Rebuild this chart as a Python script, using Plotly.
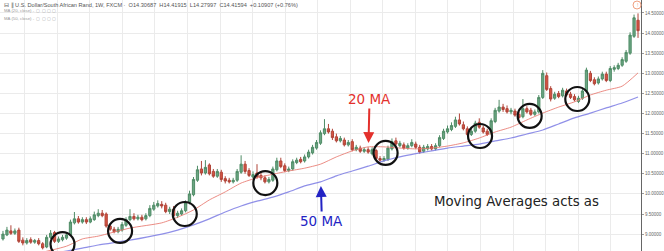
import plotly.graph_objects as go

# ---- weekly USD/ZAR candles ----
opens = [8.88, 8.98, 9.08, 9.02, 9.10, 8.85, 8.78, 8.86, 8.80, 8.84,
         8.76, 8.68, 8.92, 9.04, 8.82, 8.86, 8.90, 8.98, 9.28, 9.38,
         9.30, 9.36, 9.30, 9.36, 9.46, 9.52, 9.50, 9.20, 9.12, 9.06,
         9.10, 9.22, 9.36, 9.44, 9.38, 9.42, 9.38, 9.46, 9.62, 9.70,
         9.74, 9.72, 9.56, 9.62, 9.46, 9.50, 9.58, 9.78, 9.98, 10.34,
         10.62, 10.52, 10.72, 10.56, 10.44, 10.54, 10.38, 10.34, 10.30, 10.34,
         10.54, 10.74, 10.58, 10.42, 10.52, 10.46, 10.40, 10.30, 10.34, 10.60,
         10.82, 10.70, 10.58, 10.62, 10.78, 10.86, 10.82, 10.92, 11.02, 11.14,
         11.26, 11.50, 11.62, 11.56, 11.42, 11.32, 11.34, 11.22, 11.30, 11.10,
         11.14, 11.06, 11.10, 11.00, 11.08, 10.88, 10.84, 10.86, 11.12, 11.32,
         11.20, 11.22, 11.14, 11.20, 11.24, 11.16, 11.06, 11.12, 11.18, 11.12,
         11.20, 11.38, 11.54, 11.60, 11.68, 11.84, 11.72, 11.62, 11.48, 11.56,
         11.78, 11.64, 11.56, 11.50, 11.80, 12.06, 12.16, 12.12, 12.04, 12.06,
         11.98, 11.92, 12.12, 12.08, 11.98, 12.04, 12.40, 12.94, 12.62, 12.38,
         12.50, 12.44, 12.56, 12.48, 12.42, 12.30, 12.38, 12.56, 13.00, 12.84,
         12.76, 12.86, 12.98, 12.82, 13.10, 13.12, 13.20, 13.30, 13.50, 13.92,
         14.32]
highs = [9.08, 9.18, 9.22, 9.14, 9.16, 8.92, 8.90, 8.92, 8.88, 8.90,
         8.80, 8.98, 9.10, 9.08, 8.94, 8.98, 9.04, 9.36, 9.55, 9.45,
         9.42, 9.42, 9.44, 9.56, 9.62, 9.60, 9.54, 9.26, 9.18, 9.18,
         9.30, 9.42, 9.62, 9.52, 9.48, 9.48, 9.52, 9.72, 9.80, 9.84,
         9.82, 9.78, 9.68, 9.70, 9.58, 9.64, 9.84, 10.08, 10.42, 10.70,
         10.82, 10.84, 10.76, 10.62, 10.62, 10.60, 10.44, 10.40, 10.40, 10.62,
         10.96, 10.82, 10.64, 10.56, 10.74, 10.56, 10.46, 10.42, 10.68, 10.90,
         10.90, 10.76, 10.68, 10.86, 10.90, 10.92, 10.98, 11.10, 11.22, 11.34,
         11.58, 11.86, 11.74, 11.62, 11.50, 11.44, 11.40, 11.34, 11.36, 11.22,
         11.20, 11.16, 11.16, 11.16, 11.12, 10.94, 10.94, 11.20, 11.38, 11.40,
         11.32, 11.28, 11.26, 11.36, 11.30, 11.22, 11.22, 11.24, 11.24, 11.26,
         11.46, 11.62, 11.70, 11.78, 11.92, 12.00, 11.80, 11.68, 11.62, 11.82,
         11.88, 11.70, 11.62, 11.88, 12.14, 12.34, 12.24, 12.20, 12.14, 12.12,
         12.04, 12.36, 12.18, 12.14, 12.10, 12.46, 13.08, 13.02, 12.68, 12.54,
         12.56, 12.64, 12.62, 12.54, 12.48, 12.44, 12.62, 13.14, 13.06, 12.90,
         12.92, 13.04, 13.04, 13.18, 13.20, 13.26, 13.40, 13.58, 14.02, 14.46,
         14.49]
lows = [8.84, 8.95, 8.98, 8.98, 8.78, 8.72, 8.74, 8.76, 8.76, 8.72,
        8.62, 8.65, 8.88, 8.78, 8.78, 8.82, 8.86, 8.95, 9.24, 9.26,
        9.26, 9.25, 9.27, 9.33, 9.42, 9.42, 9.16, 9.08, 9.02, 9.02,
        9.06, 9.18, 9.32, 9.34, 9.34, 9.32, 9.34, 9.42, 9.58, 9.66,
        9.64, 9.52, 9.50, 9.42, 9.40, 9.46, 9.54, 9.74, 9.94, 10.30,
        10.46, 10.48, 10.46, 10.40, 10.40, 10.30, 10.26, 10.26, 10.26, 10.30,
        10.50, 10.50, 10.42, 10.38, 10.38, 10.34, 10.26, 10.26, 10.30, 10.56,
        10.64, 10.54, 10.54, 10.58, 10.74, 10.76, 10.78, 10.88, 10.98, 11.10,
        11.22, 11.46, 11.50, 11.34, 11.28, 11.28, 11.18, 11.18, 11.06, 11.06,
        11.02, 11.02, 11.00, 10.96, 10.84, 10.80, 10.80, 10.82, 11.08, 11.20,
        11.16, 11.10, 11.10, 11.16, 11.12, 11.00, 11.02, 11.08, 11.08, 11.08,
        11.16, 11.34, 11.50, 11.56, 11.64, 11.70, 11.58, 11.44, 11.44, 11.52,
        11.62, 11.50, 11.44, 11.46, 11.76, 12.02, 12.04, 12.00, 11.98, 11.92,
        11.86, 11.88, 12.00, 11.94, 11.94, 12.00, 12.36, 12.56, 12.30, 12.34,
        12.38, 12.40, 12.42, 12.36, 12.30, 12.26, 12.34, 12.52, 12.78, 12.70,
        12.72, 12.82, 12.78, 12.78, 13.04, 13.08, 13.16, 13.26, 13.46, 13.88,
        13.88]
closes = [9.00, 9.10, 9.02, 9.08, 8.82, 8.78, 8.84, 8.80, 8.84, 8.76,
          8.66, 8.92, 9.02, 8.82, 8.88, 8.92, 8.98, 9.30, 9.38, 9.30,
          9.36, 9.30, 9.38, 9.48, 9.52, 9.46, 9.20, 9.12, 9.06, 9.12,
          9.24, 9.36, 9.44, 9.38, 9.42, 9.36, 9.46, 9.64, 9.72, 9.76,
          9.70, 9.56, 9.62, 9.46, 9.52, 9.58, 9.78, 10.00, 10.36, 10.60,
          10.52, 10.66, 10.50, 10.44, 10.56, 10.36, 10.32, 10.30, 10.34, 10.56,
          10.74, 10.56, 10.46, 10.48, 10.42, 10.40, 10.30, 10.36, 10.62, 10.82,
          10.68, 10.58, 10.62, 10.80, 10.84, 10.80, 10.92, 11.04, 11.16, 11.28,
          11.52, 11.62, 11.54, 11.40, 11.32, 11.38, 11.22, 11.28, 11.10, 11.16,
          11.06, 11.10, 11.04, 11.10, 10.88, 10.84, 10.88, 11.14, 11.30, 11.24,
          11.26, 11.14, 11.20, 11.28, 11.16, 11.04, 11.16, 11.18, 11.12, 11.20,
          11.40, 11.56, 11.62, 11.70, 11.84, 11.74, 11.62, 11.48, 11.56, 11.76,
          11.66, 11.54, 11.48, 11.82, 12.08, 12.16, 12.10, 12.04, 12.08, 11.96,
          11.90, 12.12, 12.04, 11.98, 12.04, 12.40, 13.00, 12.60, 12.36, 12.48,
          12.42, 12.58, 12.46, 12.40, 12.34, 12.38, 12.56, 13.08, 12.82, 12.74,
          12.86, 12.98, 12.82, 13.12, 13.14, 13.20, 13.34, 13.52, 13.95, 14.38,
          14.06]
bars = list(range(len(opens)))

# ---- moving averages ----
ma_bars = [0, 8, 16, 20, 24, 32, 40, 44, 48, 52, 56, 60, 64, 68, 72, 76, 80, 84, 88,
           92, 96, 100, 104, 108, 112, 116, 120, 124, 128, 132, 136, 140, 144, 148,
           152, 156, 160]
ma20 = [8.41, 8.51, 8.70, 8.88, 8.95, 9.15, 9.28, 9.42, 9.60, 9.85, 10.05, 10.27,
        10.40, 10.49, 10.57, 10.64, 10.74, 10.92, 11.07, 11.17, 11.17, 11.14, 11.12,
        11.14, 11.19, 11.27, 11.39, 11.54, 11.66, 11.84, 12.01, 12.16, 12.29, 12.46,
        12.58, 12.68, 13.01]
ma50 = [8.28, 8.43, 8.58, 8.65, 8.73, 8.85, 9.00, 9.10, 9.23, 9.38, 9.55, 9.70,
        9.82, 9.92, 10.05, 10.20, 10.30, 10.45, 10.57, 10.69, 10.82, 10.92, 11.00,
        11.07, 11.14, 11.19, 11.24, 11.32, 11.39, 11.49, 11.59, 11.74, 11.89, 12.01,
        12.14, 12.26, 12.41]

# ---- touches of the moving average that are circled ----
touch_bars = [15.0, 29.5, 45.8, 66.1, 96.4, 120.2, 132.7, 144.7]
touch_prices = [8.75, 9.08, 9.50, 10.27, 11.02, 11.44, 11.94, 12.36]

W, H = 664, 251
ML, MR = 0, 19
PW = W - ML - MR

fig = go.Figure()
fig.add_trace(go.Candlestick(
    x=bars, open=opens, high=highs, low=lows, close=closes,
    increasing=dict(fillcolor="#6ba583", line=dict(color="#4f8c66", width=1)),
    decreasing=dict(fillcolor="#d75442", line=dict(color="#b04438", width=1)),
    whiskerwidth=0, showlegend=False, hoverinfo="skip"))
fig.add_trace(go.Scatter(x=ma_bars, y=ma20, mode="lines",
                         line=dict(color="rgba(232,120,110,0.85)", width=1, shape="spline", smoothing=0.6),
                         showlegend=False, hoverinfo="skip"))
fig.add_trace(go.Scatter(x=ma_bars, y=ma50, mode="lines",
                         line=dict(color="rgba(125,125,228,0.85)", width=1.2, shape="spline", smoothing=0.6),
                         showlegend=False, hoverinfo="skip"))

shapes = []
for b, p in zip(touch_bars, touch_prices):
    shapes.append(dict(type="circle", xref="x", yref="y", xsizemode="pixel", ysizemode="pixel",
                       xanchor=b, yanchor=p, x0=-12, x1=12, y0=-12, y1=12,
                       line=dict(color="#111111", width=2.2), layer="above"))
# white box behind the caption
shapes.append(dict(type="rect", xref="paper", yref="paper",
                   x0=420 / PW, x1=612 / PW, y0=1 - 237 / H, y1=1 - 185 / H,
                   fillcolor="white", line=dict(width=0), layer="between"))
# alert icon top-right
shapes.append(dict(type="circle", xref="paper", yref="paper", xsizemode="pixel", ysizemode="pixel",
                   xanchor=641 / PW, yanchor=1 - 5 / H, x0=-4, x1=4, y0=-4, y1=4,
                   line=dict(color="#f0a080", width=1), layer="above"))

FONT = "DejaVu Sans"
annotations = [
    dict(x=92.1, y=11.266, xref="x", yref="y", ax=1, ay=-44, text="20 MA",
         showarrow=True, arrowhead=2, arrowsize=1.1, arrowwidth=2, arrowcolor="#e3302c",
         standoff=0, font=dict(family=FONT, size=13.5, color="#e3302c")),
    dict(x=80.1, y=10.196, xref="x", yref="y", ax=1, ay=35, text="50 MA",
         showarrow=True, arrowhead=2, arrowsize=1.1, arrowwidth=2, arrowcolor="#2323c4",
         standoff=0, font=dict(family=FONT, size=13.5, color="#2323c4")),
    dict(x=520 / PW, y=1 - 201.5 / H, xref="paper", yref="paper", xanchor="center", yanchor="middle",
         text="Moving Averages acts as",
         showarrow=False, font=dict(family=FONT, size=13.3, color="#222222")),
    dict(x=2 / PW, y=1 - 6 / H, xref="paper", yref="paper", xanchor="left", yanchor="middle",
         text="⊟ ∥ U.S. Dollar/South African Rand, 1W, FXCM ·  O14.30687  H14.41915  L14.27997  C14.41594  +0.10907 (+0.76%)",
         showarrow=False, font=dict(family="Liberation Sans", size=5.6, color="#555555")),
    dict(x=2 / PW, y=1 - 11 / H, xref="paper", yref="paper", xanchor="left", yanchor="middle",
         text="MA (20, close) -  ▢ ▢ ▢ ▢", showarrow=False,
         font=dict(family="Liberation Sans", size=4.3, color="#999999")),
    dict(x=2 / PW, y=1 - 18 / H, xref="paper", yref="paper", xanchor="left", yanchor="middle",
         text="MA (50, close) -  ▢ ▢ ▢ ▢", showarrow=False,
         font=dict(family="Liberation Sans", size=4.3, color="#999999")),
    dict(x=641 / PW, y=1 - 5 / H, xref="paper", yref="paper", xanchor="center", yanchor="middle",
         text="!", showarrow=False,
         font=dict(family="Liberation Sans", size=5, color="#f0a080")),
]

# x range so the first bar sits ~3px from the left and the last ~3px before the axis
span = (len(bars) - 1) * PW / (PW - 6)
x0 = -3 * span / PW
fig.update_layout(
    width=W, height=H, margin=dict(l=ML, r=MR, t=0, b=0, pad=0),
    paper_bgcolor="white", plot_bgcolor="white", boxgap=0.2,
    shapes=shapes, annotations=annotations, showlegend=False,
    xaxis=dict(range=[x0, x0 + span], rangeslider=dict(visible=False), showticklabels=False,
               showgrid=True, gridcolor="#ebebeb", gridwidth=1, tickmode="linear",
               tick0=5.5, dtick=8.2, zeroline=False, showline=False, ticks=""),
    yaxis=dict(side="right", range=[8.58, 14.823], tickmode="linear", tick0=0, dtick=0.5,
               tickformat=".5f", tickfont=dict(family="Liberation Sans", size=4.5, color="#666666"),
               showgrid=True, gridcolor="#ebebeb", gridwidth=1, zeroline=False,
               showline=True, linecolor="#666666", linewidth=1, ticks="outside", ticklen=2,
               tickcolor="#999999"),
)
fig.write_html("out.html")
